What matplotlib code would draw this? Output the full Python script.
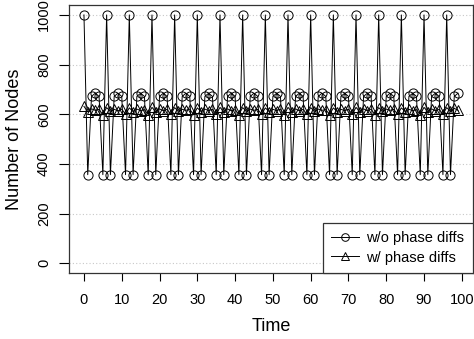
import matplotlib
matplotlib.use("Agg")
import matplotlib.pyplot as plt
from matplotlib.lines import Line2D

plt.rcParams['font.family'] = ['Liberation Sans', 'DejaVu Sans']

# Time steps 0..99
time = list(range(100))

# Node counts without phase differences
without_phase = [
    1000, 357, 672, 685, 672, 357,
    1000, 357, 672, 685, 672, 357,
    1000, 357, 672, 685, 672, 357,
    1000, 357, 672, 685, 672, 357,
    1000, 357, 672, 685, 672, 357,
    1000, 357, 672, 685, 672, 357,
    1000, 357, 672, 685, 672, 357,
    1000, 357, 672, 685, 672, 357,
    1000, 357, 672, 685, 672, 357,
    1000, 357, 672, 685, 672, 357,
    1000, 357, 672, 685, 672, 357,
    1000, 357, 672, 685, 672, 357,
    1000, 357, 672, 685, 672, 357,
    1000, 357, 672, 685, 672, 357,
    1000, 357, 672, 685, 672, 357,
    1000, 357, 672, 685, 672, 357,
    1000, 357, 672, 685,
]

# Node counts with phase differences
with_phase = [
    632, 610, 622, 616, 620, 598,
    627, 612, 620, 614, 621, 600,
    626, 611, 621, 615, 619, 599,
    628, 610, 622, 614, 620, 600,
    627, 612, 620, 616, 621, 598,
    626, 611, 621, 615, 620, 600,
    628, 610, 622, 614, 619, 599,
    627, 612, 621, 616, 620, 600,
    626, 611, 620, 615, 621, 598,
    628, 610, 622, 614, 620, 600,
    627, 612, 621, 616, 619, 599,
    626, 611, 620, 615, 620, 600,
    628, 610, 622, 614, 621, 598,
    627, 612, 621, 616, 620, 600,
    626, 611, 620, 615, 619, 599,
    628, 610, 622, 614, 620, 600,
    627, 612, 624, 616,
]

x_ticks = list(range(0, 101, 10))
y_ticks = list(range(0, 1001, 200))

fig = plt.figure(figsize=(4.74, 3.39), dpi=100)
ax = fig.add_axes([69 / 474, 1 - 273.3 / 339, (473 - 69) / 474, (273.3 - 5) / 339])

for y in y_ticks:
    ax.axhline(y, color='#c8c8c8', linestyle=(0, (1, 2)), linewidth=0.8, zorder=0)

marker_kw = dict(markersize=6.6, markerfacecolor='none', markeredgecolor='black',
                 markeredgewidth=0.7, color='black', linewidth=0.7)
ax.plot(time, without_phase, marker='o', label='w/o phase diffs', **marker_kw)
ax.plot(time, with_phase, marker='^', label='w/ phase diffs', **marker_kw)

ax.set_xlim(-3.96, 102.96)
ax.set_ylim(-40, 1040)
ax.set_xticks(x_ticks)
ax.set_yticks(y_ticks)
ax.set_yticklabels([str(v) for v in y_ticks], rotation=90, va='center')
ax.tick_params(axis='x', length=6, width=0.8, pad=8, labelsize=10.5)
ax.tick_params(axis='y', length=7, width=0.8, pad=6, labelsize=10.5)

for s in ax.spines.values():
    s.set_color('#333333')
    s.set_linewidth(0.9)

ax.set_xlabel('Time', fontsize=13, va='center')
ax.xaxis.set_label_coords(0.5, -0.200)
ax.set_ylabel('Number of Nodes', fontsize=13, va='center')
ax.yaxis.set_label_coords(-0.134, 0.5)

legend_kw = dict(marker_kw, markersize=5.5)
handles = [
    Line2D([], [], marker='o', **legend_kw),
    Line2D([], [], marker='^', **legend_kw),
]
leg = ax.legend(handles, ['w/o phase diffs', 'w/ phase diffs'], loc='lower right',
                borderaxespad=0, fancybox=False, edgecolor='#333333', framealpha=1,
                fontsize=10.5, handlelength=1.9, handletextpad=0.5,
                labelspacing=0.35, borderpad=0.6)
leg.get_frame().set_linewidth(0.9)

fig.savefig('out.png', dpi=100)
